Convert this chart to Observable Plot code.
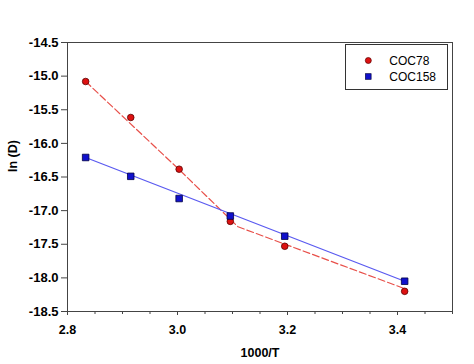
<!DOCTYPE html>
<html>
<head>
<meta charset="utf-8">
<script src="https://cdn.jsdelivr.net/npm/d3@7"></script>
<script src="https://cdn.jsdelivr.net/npm/@observablehq/plot@0.6"></script>
<style>
  html, body { margin: 0; padding: 0; background: #fff; }
  #wrap { position: relative; width: 474px; height: 364px; font-family: "Liberation Sans", Arial, sans-serif; }
  #legend { position: absolute; left: 345px; top: 44px; width: 103px; height: 46px; box-sizing: border-box; border: 1px solid #333; background: #fff; }
  #legend svg { position: absolute; left: 0; top: 0; }
</style>
</head>
<body>
<div id="wrap"></div>
<script>
// 1000/T values
const invT = [2.833, 2.915, 3.003, 3.096, 3.195, 3.413];
// ln(D) series
const coc78 = [-15.08, -15.615, -16.384, -17.16, -17.53, -18.20];
const coc158 = [-16.21, -16.49, -16.82, -17.08, -17.38, -18.05];
// fitted lines
const fit78X = [2.833, 3.003, 3.11, 3.413];
const fit78Y = [-15.08, -16.39, -17.24, -18.16];
const fit158X = [2.833, 3.413];
const fit158Y = [-16.21, -18.05];
// ticks
const xTicks = [2.8, 3.0, 3.2, 3.4];
const xMinor = [2.85, 2.9, 2.95, 3.05, 3.1, 3.15, 3.25, 3.3, 3.35, 3.45, 3.5];
const yTicks = [-18.5, -18.0, -17.5, -17.0, -16.5, -16.0, -15.5, -15.0, -14.5];
const seriesNames = ["COC78", "COC158"];

const red = "#dd1111", redLine = "#e8504a", redStroke = "#5a0000";
const blue = "#1010cc", blueLine = "#5a5af0", blueStroke = "#000044";

const pts78 = invT.map((x, i) => ({x, y: coc78[i]}));
const pts158 = invT.map((x, i) => ({x, y: coc158[i]}));
const line78 = fit78X.map((x, i) => ({x, y: fit78Y[i]}));
const line158 = fit158X.map((x, i) => ({x, y: fit158Y[i]}));

const chart = Plot.plot({
  width: 474,
  height: 364,
  marginLeft: 67,
  marginRight: 22,
  marginTop: 42,
  marginBottom: 53,
  style: {fontFamily: "Liberation Sans, Arial, sans-serif", fontSize: "12px", background: "#fff", color: "#000"},
  x: {domain: [2.8, 3.5]},
  y: {domain: [-18.5, -14.5]},
  marks: [
    Plot.frame({stroke: "#444", strokeWidth: 1}),
    Plot.axisX(xMinor, {tickSize: 3, tickFormat: () => "", label: null, stroke: "#444"}),
    Plot.axisX(xTicks, {tickSize: 4, tickPadding: 10, tickFormat: d => d.toFixed(1), label: null, fontWeight: "bold", fontSize: 12.5, stroke: "#444"}),
    Plot.axisY(yTicks, {tickSize: 6, tickPadding: 3, tickFormat: d => d.toFixed(1), label: null, fontWeight: "bold", fontSize: 13, stroke: "#444"}),
    Plot.line(line78, {x: "x", y: "y", stroke: redLine, strokeWidth: 1.2, strokeDasharray: "7,3"}),
    Plot.line(line158, {x: "x", y: "y", stroke: blueLine, strokeWidth: 1.3}),
    Plot.dot(pts78, {x: "x", y: "y", r: 3.3, fill: red, stroke: redStroke, strokeWidth: 0.8}),
    Plot.dot(pts158, {x: "x", y: "y", r: 3.7, symbol: "square", fill: blue, stroke: blueStroke, strokeWidth: 0.8}),
    Plot.text(["1000/T"], {frameAnchor: "bottom", dy: 41, fontWeight: "bold", fontSize: 12.5, lineAnchor: "middle"}),
    Plot.text(["ln (D)"], {frameAnchor: "left", dx: -55, dy: -5, rotate: -90, fontWeight: "bold", fontSize: 12.5, lineAnchor: "middle"})
  ]
});
const wrap = document.getElementById("wrap");
wrap.appendChild(chart);

// legend
const leg = document.createElement("div");
leg.id = "legend";
const lsvg = d3.create("svg").attr("width", 101).attr("height", 44);
lsvg.append("circle").attr("cx", 22.3).attr("cy", 15.5).attr("r", 3).attr("fill", red).attr("stroke", redStroke).attr("stroke-width", 0.7);
lsvg.append("rect").attr("x", 19.5).attr("y", 28.7).attr("width", 5.6).attr("height", 5.6).attr("fill", blue).attr("stroke", blueStroke).attr("stroke-width", 0.7);
lsvg.append("text").attr("x", 43.3).attr("y", 19.8).attr("font-size", 12).attr("font-family", "Liberation Sans, Arial, sans-serif").text(seriesNames[0]);
lsvg.append("text").attr("x", 43.3).attr("y", 35.8).attr("font-size", 12).attr("font-family", "Liberation Sans, Arial, sans-serif").text(seriesNames[1]);
leg.appendChild(lsvg.node());
wrap.appendChild(leg);
</script>
</body>
</html>
